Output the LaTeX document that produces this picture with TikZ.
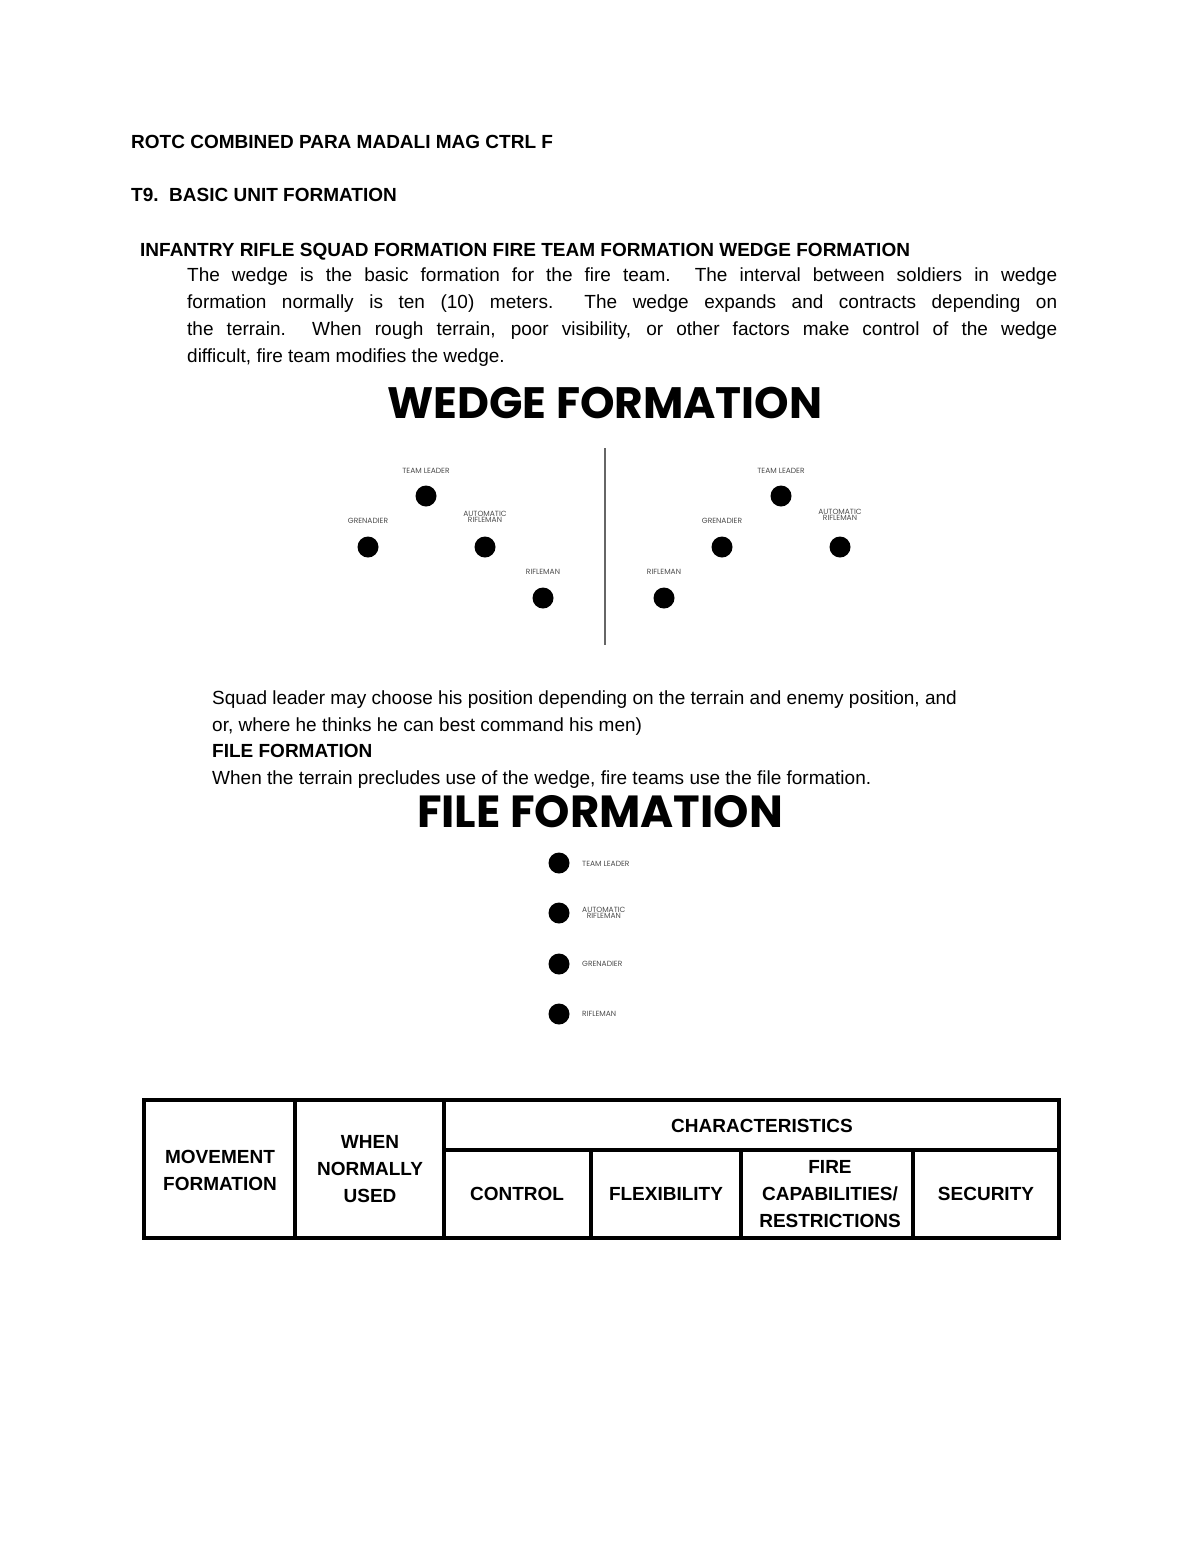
\documentclass[tikz,border=0pt]{standalone}
\usepackage{fontspec}
\setmainfont{Liberation Sans}
\newfontfamily\pop{Poppins}
\begin{document}
\begin{tikzpicture}[x=1pt,y=-1pt,
  txt/.style={anchor=base west,inner sep=0pt,font=\fontsize{19}{27}\selectfont},
  btxt/.style={txt,font=\fontsize{19}{27}\selectfont\bfseries},
  dot/.style={circle,fill=black,minimum size=21pt,inner sep=0pt},
  lab/.style={inner sep=0pt,font=\pop\fontsize{7.5}{7.5}\selectfont,text=black!70,align=center},
  big/.style={inner sep=0pt,font=\pop\bfseries\fontsize{40}{40}\selectfont},
  cell/.style={align=center,font=\fontsize{19}{27}\selectfont\bfseries,inner sep=0pt}]
\useasboundingbox (0,0) rectangle (1200,1553);
\node[btxt] (h1) at (131,148) {ROTC COMBINED PARA MADALI MAG CTRL F};
\node[btxt] (h2) at (131,201) {T9.\ \ BASIC UNIT FORMATION};
\node[btxt] (h3) at (140,256) {INFANTRY RIFLE SQUAD FORMATION FIRE TEAM FORMATION WEDGE FORMATION};
\node[txt,anchor=north west,text width=870pt,align=justify] (p1) at (187,268) {The wedge is the basic formation for the fire team.\ \ The interval between soldiers in wedge\linebreak formation normally is ten (10) meters.\ \ The wedge expands and contracts depending on\linebreak the terrain.\ \ When rough terrain, poor visibility, or other factors make control of the wedge\linebreak difficult, fire team modifies the wedge.};
\node[big] (wt) at (605,403) {\resizebox{435pt}{!}{WEDGE FORMATION}};
\draw[line width=2.5pt,black!60] (605,448) coordinate (vl1) -- (605,645) coordinate (vl2);
% left wedge
\node[dot] (l1) at (426,496) {}; \node[lab] at (426,471) {TEAM LEADER};
\node[dot] (l2) at (368,547) {}; \node[lab] at (368,521) {GRENADIER};
\node[dot] (l3) at (485,547) {}; \node[lab] at (485,517) {AUTOMATIC\\[-1pt]RIFLEMAN};
\node[dot] (l4) at (543,598) {}; \node[lab] at (543,572) {RIFLEMAN};
% right wedge
\node[dot] (r1) at (781,496) {}; \node[lab] at (781,471) {TEAM LEADER};
\node[dot] (r2) at (722,547) {}; \node[lab] at (722,521) {GRENADIER};
\node[dot] (r3) at (840,547) {}; \node[lab] at (840,515) {AUTOMATIC\\[-1pt]RIFLEMAN};
\node[dot] (r4) at (664,598) {}; \node[lab] at (664,572) {RIFLEMAN};
\node[txt] (p2) at (212,704) {Squad leader may choose his position depending on the terrain and enemy position, and};
\node[txt] (p3) at (212,731) {or, where he thinks he can best command his men)};
\node[btxt] (p4) at (212,757) {FILE FORMATION};
\node[txt] (p5) at (212,784) {When the terrain precludes use of the wedge, fire teams use the file formation.};
\node[big] (ft) at (600,812) {\resizebox{366pt}{!}{FILE FORMATION}};
\node[dot] (f1) at (559,863) {}; \node[lab,anchor=west] at (582,864) {TEAM LEADER};
\node[dot] (f2) at (559,913) {}; \node[lab,anchor=west] at (582,913) {AUTOMATIC\\[-1pt]RIFLEMAN};
\node[dot] (f3) at (559,964) {}; \node[lab,anchor=west] at (582,964) {GRENADIER};
\node[dot] (f4) at (559,1014) {}; \node[lab,anchor=west] at (582,1014) {RIFLEMAN};
% table
\draw[line width=3.5pt] (144,1100) rectangle (1059,1238);
\foreach \x in {295,444} \draw[line width=3.5pt] (\x,1100) -- (\x,1238);
\foreach \x in {591,741,913} \draw[line width=3.5pt] (\x,1150) -- (\x,1238);
\draw[line width=3.5pt] (444,1150) -- (1059,1150);
\node[cell] (c1) at (220,1170) {MOVEMENT\\FORMATION};
\node[cell] (c2) at (370,1169) {WHEN\\NORMALLY\\USED};
\node[cell] (c3) at (762,1126) {CHARACTERISTICS};
\node[cell] (c4) at (517,1194) {CONTROL};
\node[cell] (c5) at (666,1194) {FLEXIBILITY};
\node[cell] (c6) at (830,1194) {FIRE\\CAPABILITIES/\\RESTRICTIONS};
\node[cell] (c7) at (986,1194) {SECURITY};
\end{tikzpicture}
\end{document}
